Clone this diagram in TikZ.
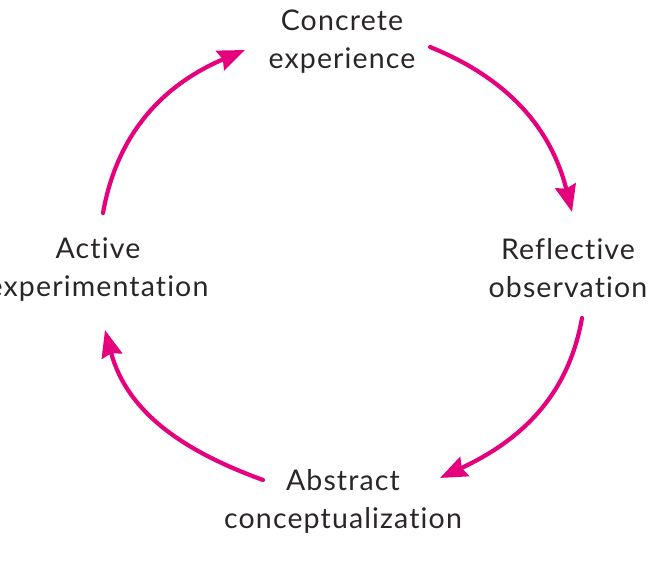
\documentclass[tikz,border=0pt]{standalone}
\usepackage{fontspec}
\setmainfont{Lato}[LetterSpace=4,Ligatures=NoCommon]
\usetikzlibrary{arrows.meta}
\definecolor{Ink}{HTML}{2A2627}
\definecolor{Magenta}{HTML}{E5007D}

\begin{document}
\begin{tikzpicture}[x=1pt,y=1pt,
    stage/.style={align=center,text=Ink,font=\fontsize{28.5}{38}\selectfont,inner sep=0pt},
    loop/.style={line width=4.2pt,Magenta,line cap=round,-{Stealth[length=27pt,width=21pt,inset=3pt]}}]
    \useasboundingbox (0,0) rectangle (661,564);
    \node[stage] (ce) at (342,522) {Concrete\\experience};
    \node[stage] (ro) at (568,296) {Reflective\\observation};
    \node[stage] (ac) at (343,63) {Abstract\\conceptualization};
    \node[stage] (ae) at (98,294) {Active\\experimentation};
    \draw[loop] ([shift={(88,-5)}]ce.center) to[out=-22,in=104] ([shift={(4,56)}]ro.center);
    \draw[loop] ([shift={(14,-50)}]ro.center) to[out=-100,in=25] ([shift={(97,23)}]ac.center);
    \draw[loop] ([shift={(-80,21)}]ac.center) to[out=160,in=-75] ([shift={(7,-60)}]ae.center);
    \draw[loop] ([shift={(5,57)}]ae.center) to[out=80,in=-157] ([shift={(-97,-8)}]ce.center);
  \end{tikzpicture}
\end{document}
